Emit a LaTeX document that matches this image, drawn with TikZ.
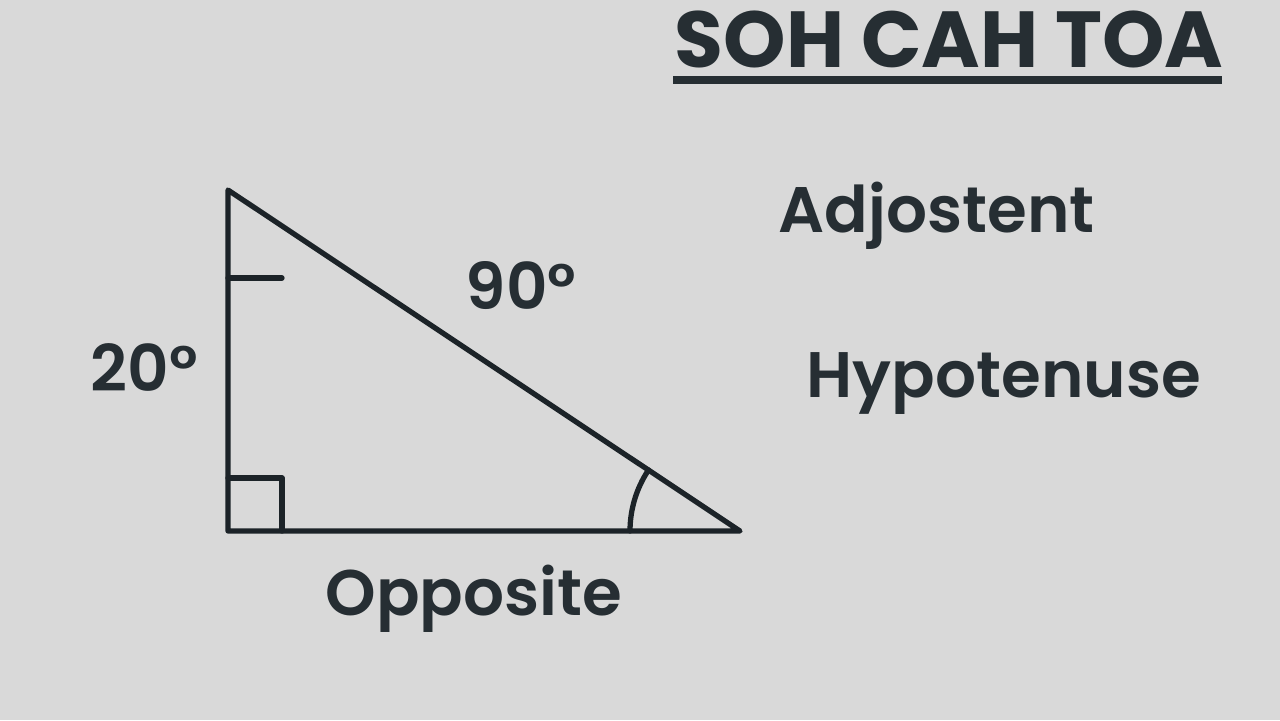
\documentclass[tikz,border=0pt]{standalone}
\usepackage{fontspec}
\setmainfont{Poppins}
\newfontfamily\labelfont{Poppins SemiBold}
\newfontfamily\titlefont{Poppins Bold}
\definecolor{bgcol}{RGB}{217,217,217}
\definecolor{inkcol}{RGB}{38,46,51}
\definecolor{linecol}{RGB}{28,35,40}

\tikzset{
  side/.style={line width=1.5pt, draw=linecol, line cap=round, line join=round},
  lbl/.style={anchor=base west, inner sep=0pt, text=inkcol, font=\labelfont\fontsize{18.3}{22}\selectfont}
}

\begin{document}
\begin{tikzpicture}[x=0.01cm, y=-0.01cm]
  % Background
  \fill[bgcol] (0,0) rectangle (1280,720);
  \useasboundingbox (0,0) rectangle (1280,720);

  % Corners of the triangle
  \coordinate (top) at (228,190);
  \coordinate (corner) at (228,531);
  \coordinate (tip) at (740,531);

  % Draw the triangle
  \draw[side] (top) -- (corner) -- (tip) -- cycle;

  % Right angle box and tick mark
  \draw[side] (228,478) -- (282,478) -- (282,531);
  \draw[side] (228,278) -- (282,278);

  % Angle arc at the tip
  \draw[side] (tip) ++(180:110) arc[start angle=180, end angle=213.7, radius=110];

  % Labels
  \node[lbl] (twenty) at (90,391) {20°};
  \node[lbl] (ninety) at (465,309) {90°};
  \node[lbl] (opp) at (325,615) {Opposite};
  \node[lbl] (adj) at (778,232) {Adjostent};
  \node[lbl] (hyp) at (806,397) {Hypotenuse};

  % Title with underline
  \node[lbl, font=\titlefont\fontsize{22.6}{26}\selectfont] (title) at (674,67) {SOH CAH TOA};
  \draw[line width=2.3pt, draw=inkcol] (673,80) -- (1222,80);
\end{tikzpicture}
\end{document}
